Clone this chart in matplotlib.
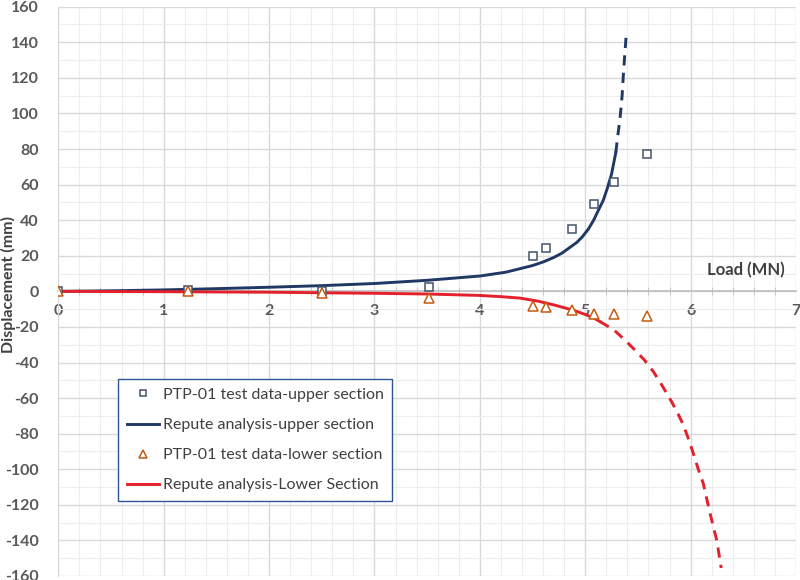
import numpy as np
import matplotlib
matplotlib.use('Agg')
import matplotlib.pyplot as plt
from matplotlib.ticker import MultipleLocator

plt.rcParams['font.family'] = ['Lato', 'DejaVu Sans']

# ── DATA ──────────────────────────────────────────────────
test_load = [0, 1.23, 2.5, 3.52, 4.5, 4.63, 4.87, 5.08, 5.27, 5.59]
test_upper = [0, 0.5, 0, 2.5, 20, 24.5, 35, 49, 61.5, 77]
test_lower = [0, 0, -1, -4, -8, -9, -10.5, -12.5, -13, -14]

upper_x = [0, 0.5, 1, 1.5, 2, 2.5, 3, 3.5, 4, 4.25, 4.5, 4.6, 4.7, 4.78,
           4.85, 4.92, 4.97, 5.03, 5.08, 5.12, 5.17, 5.21, 5.25, 5.27, 5.29]
upper_y = [0, 0.3, 0.8, 1.5, 2.3, 3.2, 4.4, 6.2, 8.6, 10.8, 14.5, 16.5, 19,
           21.5, 24.5, 27.5, 30.5, 35, 40, 45, 51, 58, 66, 72, 78]
upper_dash_x = [5.29, 5.31, 5.33, 5.35, 5.36, 5.375, 5.39]
upper_dash_y = [78, 88, 97, 110, 120, 133, 145]

lower_x = [0, 0.5, 1, 1.5, 2, 2.5, 3, 3.5, 4, 4.2, 4.38, 4.55, 4.7, 4.85,
           4.93, 5.0, 5.08, 5.14]
lower_y = [0, -0.1, -0.2, -0.35, -0.5, -0.8, -1.1, -1.5, -2.3, -3.0, -3.8,
           -5.5, -7.6, -10, -11.5, -13, -15, -17]
lower_dash_x = [5.14, 5.27, 5.37, 5.47, 5.56, 5.645, 5.72, 5.8, 5.87, 5.93,
                5.98, 6.025, 6.07, 6.12, 6.18, 6.25, 6.29]
lower_dash_y = [-17, -21.6, -27, -32.9, -38.5, -45, -52, -60, -67.5, -75,
                -83, -91, -99.5, -108, -123.7, -140.5, -155.5]

NAVY = '#1F3864'
RED = '#E3202B'
SQ = '#44546A'
TRI = '#C55A11'
TXT = '#595959'

fig = plt.figure(figsize=(8, 5.8), dpi=100)
ax = fig.add_axes([0.0729, 0.0069, 0.9221, 0.9816])

ax.set_xlim(0, 7)
ax.set_ylim(-160, 160)
ax.xaxis.set_major_locator(MultipleLocator(1))
ax.xaxis.set_minor_locator(MultipleLocator(0.2))
ax.yaxis.set_major_locator(MultipleLocator(20))
ax.yaxis.set_minor_locator(MultipleLocator(10))
ax.grid(which='major', color='#D9D9D9', linewidth=1.0, zorder=0)
ax.grid(which='minor', color='#EDEDED', linewidth=0.8, zorder=0)
ax.set_axisbelow(True)

for s in ['top', 'right']:
    ax.spines[s].set_visible(False)
ax.spines['left'].set_color('#D9D9D9')
ax.spines['bottom'].set_position(('data', 0))
ax.spines['bottom'].set_color('#BFBFBF')
ax.spines['bottom'].set_linewidth(1.2)

ax.tick_params(axis='x', which='major', length=0, pad=9, labelsize=11.5,
               labelcolor=TXT)
ax.tick_params(axis='x', which='minor', direction='inout', length=6,
               color='#BFBFBF')
ax.tick_params(axis='y', which='both', length=0, pad=14, labelsize=11.5,
               labelcolor=TXT)
ax.set_xticks(range(0, 8))
ax.set_xticklabels([str(i) for i in range(0, 8)], fontweight='bold')
ax.set_yticks(range(-160, 161, 20))
ax.set_yticklabels([str(v) for v in range(-160, 161, 20)], fontweight='bold')

ax.plot(test_load, test_upper, linestyle='none', marker='s', markersize=6,
        markerfacecolor='white', markeredgecolor=SQ, markeredgewidth=1.1,
        label='PTP-01 test data-upper section', zorder=4)
ax.plot(upper_x, upper_y, color=NAVY, linewidth=2.1,
        label='Repute analysis-upper section', zorder=3)
ax.plot(upper_dash_x, upper_dash_y, color=NAVY, linewidth=2.1,
        linestyle=(0, (3.5, 2.5)), zorder=3)
ax.plot(test_load, test_lower, linestyle='none', marker='^', markersize=7,
        markerfacecolor='white', markeredgecolor=TRI, markeredgewidth=1.1,
        label='PTP-01 test data-lower section', zorder=4)
ax.plot(lower_x, lower_y, color=RED, linewidth=2.1,
        label='Repute analysis-Lower Section', zorder=3)
ax.plot(lower_dash_x, lower_dash_y, color=RED, linewidth=2.1,
        linestyle=(0, (3.5, 2.5)), zorder=3)

ax.set_ylabel('Displacement (mm)', fontsize=11.5, fontweight='bold',
              color='#404040')
ax.yaxis.set_label_coords(-0.058, 0.512)
ax.text(6.52, 12, 'Load (MN)', fontsize=12, fontweight='bold',
        color='#404040', ha='center', va='center')

leg = ax.legend(loc='upper left', bbox_to_anchor=(0.081, 0.346),
                borderaxespad=0, fancybox=False, framealpha=1,
                edgecolor='#2F5597', fontsize=11.5, labelspacing=1.0,
                handlelength=2.0, handletextpad=0.25, borderpad=0.55,
                markerscale=0.8)
leg.get_frame().set_linewidth(1.0)
for t in leg.get_texts():
    t.set_color('#404040')

plt.savefig('out.png', dpi=100, facecolor='white')
